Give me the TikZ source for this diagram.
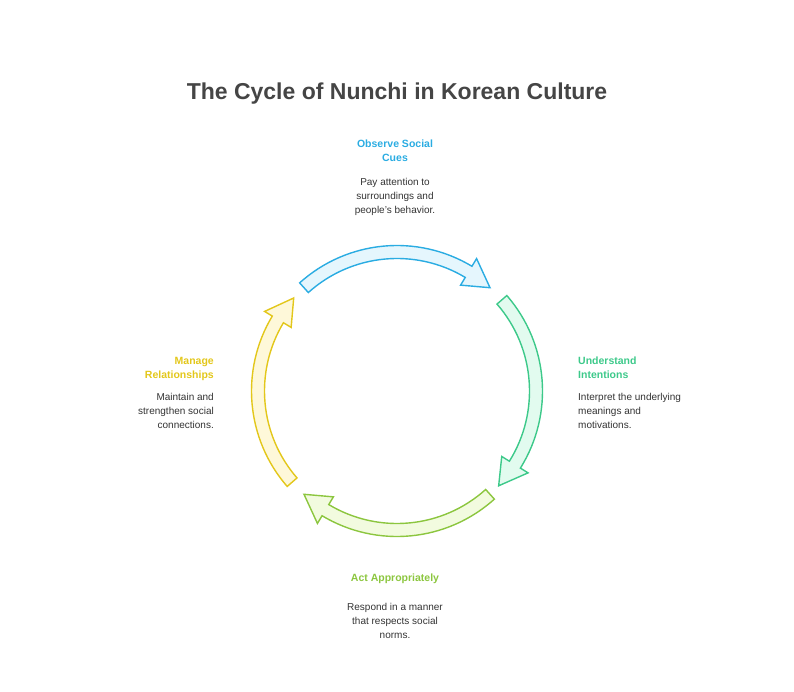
\documentclass[tikz,border=0pt]{standalone}
\usepackage{fontspec}
\setmainfont{Liberation Sans}
\definecolor{cblue}{HTML}{2AACE2}
\definecolor{fblue}{HTML}{E5F6FD}
\definecolor{cgreen}{HTML}{3DC98A}
\definecolor{fgreen}{HTML}{E2FBEF}
\definecolor{clime}{HTML}{8CC63F}
\definecolor{flime}{HTML}{F2FBDF}
\definecolor{cyellow}{HTML}{E3C71B}
\definecolor{fyellow}{HTML}{FEF8D9}
\definecolor{txt}{HTML}{333333}
\definecolor{ttl}{HTML}{454545}
\newcommand\cyclearrow[5]{% name stroke fill start end
  \filldraw[draw=#2, fill=#3, line width=1.4pt, line join=miter]
    (#4:\R+\W) arc[start angle=#4, end angle=#5+\D, radius=\R+\W]
    -- (#5+\D:\R+\H) -- (#5:\R) coordinate (#1) -- (#5+\D:\R-\H) -- (#5+\D:\R-\W)
    arc[start angle=#5+\D, end angle=#4, radius=\R-\W] -- cycle;}
\begin{document}
\begin{tikzpicture}[x=1pt,y=1pt,
  head/.style={font=\fontsize{10.5}{14}\selectfont\bfseries, inner sep=0pt},
  body/.style={font=\fontsize{10}{14}\selectfont, text=txt, inner sep=0pt}]
\useasboundingbox (0,0) rectangle (794,-692);
\def\R{139}\def\W{6.5}\def\H{15.5}\def\D{11}
\node[font=\fontsize{23}{28}\selectfont\bfseries, text=ttl, anchor=base, inner sep=0pt] (title) at (397,-100) {The Cycle of Nunchi in Korean Culture};
\begin{scope}[shift={(397,-391)}]
  \cyclearrow{a1}{cblue}{fblue}{132}{48}
  \cyclearrow{a2}{cgreen}{fgreen}{41}{-43}
  \cyclearrow{a3}{clime}{flime}{-48}{-132}
  \cyclearrow{a4}{cyellow}{fyellow}{-139}{-222}
\end{scope}
\node[head, text=cblue, align=center, anchor=north] (h1) at (395,-140) {Observe Social\\Cues};
\node[body, align=center, anchor=north] (b1) at (395,-178) {Pay attention to\\surroundings and\\people's behavior.};
\node[head, text=cgreen, align=left, anchor=north west] (h2) at (578,-357) {Understand\\Intentions};
\node[body, align=left, anchor=north west] (b2) at (578,-393) {Interpret the underlying\\meanings and\\motivations.};
\node[head, text=clime, align=center, anchor=north] (h3) at (395,-574) {Act Appropriately};
\node[body, align=center, anchor=north] (b3) at (395,-603) {Respond in a manner\\that respects social\\norms.};
\node[head, text=cyellow, align=right, anchor=north east] (h4) at (214,-357) {Manage\\Relationships};
\node[body, align=right, anchor=north east] (b4) at (214,-393) {Maintain and\\strengthen social\\connections.};
\end{tikzpicture}
\end{document}
